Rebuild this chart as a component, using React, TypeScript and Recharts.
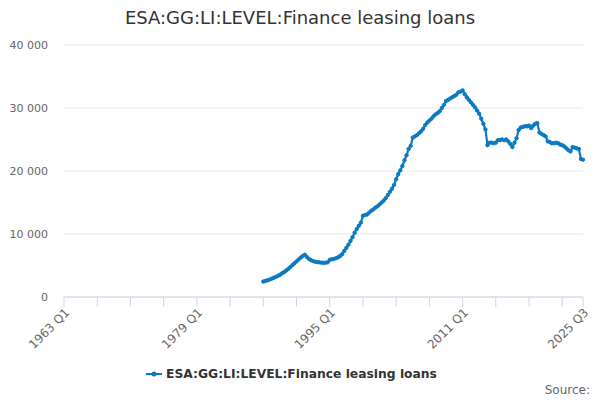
import { LineChart, Line, XAxis, YAxis, CartesianGrid, Legend } from "recharts";

const SERIES_NAME = "ESA:GG:LI:LEVEL:Finance leasing loans";
const SERIES_COLOR = "#0b7bc1";
const FIRST_YEAR = 1963;
const LAST_YEAR = 2025;
const LAST_QUARTER = 3;
const SERIES_START = "1987 Q1";

// every quarter on the axis, 1963 Q1 .. 2025 Q3
const quarters: string[] = [];
for (let y = FIRST_YEAR; y <= LAST_YEAR; y++) {
  for (let q = 1; q <= 4; q++) {
    if (y === LAST_YEAR && q > LAST_QUARTER) break;
    quarters.push(`${y} Q${q}`);
  }
}

const labelTicks = ["1963 Q1", "1979 Q1", "1995 Q1", "2011 Q1", "2025 Q3"];
const yTicks = [0, 10000, 20000, 30000, 40000];

// 1987 Q1 .. 2025 Q3
const leasing = [
  2450, 2550, 2650, 2750, // 1987
  2900, 3050, 3200, 3350, // 1988
  3530, 3750, 3950, 4200, // 1989
  4450, 4750, 5050, 5350, // 1990
  5650, 5950, 6250, 6500, // 1991
  6700, 6350, 6050, 5850, // 1992
  5700, 5600, 5550, 5500, // 1993
  5450, 5400, 5450, 5500, // 1994
  5900, 6000, 6050, 6150, // 1995
  6300, 6500, 6800, 7300, // 1996
  7800, 8300, 8900, 9500, // 1997
  10200, 10800, 11300, 11800, // 1998
  12900, 13000, 13100, 13400, // 1999
  13700, 13900, 14200, 14400, // 2000
  14700, 15000, 15300, 15700, // 2001
  16200, 16700, 17200, 17800, // 2002
  18700, 19500, 20100, 20800, // 2003
  21700, 22500, 23500, 24000, // 2004
  25300, 25500, 25700, 26000, // 2005
  26300, 26700, 27300, 27700, // 2006
  28000, 28300, 28700, 29000, // 2007
  29200, 29500, 30000, 30500, // 2008
  31100, 31300, 31500, 31700, // 2009
  31900, 32100, 32500, 32600, // 2010
  32800, 32200, 31700, 31300, // 2011
  30900, 30500, 30100, 29600, // 2012
  29100, 28300, 27500, 26600, // 2013
  24100, 24500, 24500, 24400, // 2014
  24500, 24900, 24900, 25000, // 2015
  24900, 25000, 24700, 24300, // 2016
  23800, 24500, 25200, 26500, // 2017
  26900, 27000, 27100, 27100, // 2018
  27200, 26800, 27200, 27500, // 2019
  27600, 26100, 25900, 25700, // 2020
  25500, 24700, 24600, 24400, // 2021
  24400, 24500, 24400, 24200, // 2022
  24100, 23900, 23600, 23300, // 2023
  23100, 23800, 23700, 23600, // 2024
  23500, 21900, 21800, // 2025
];

const startIdx = quarters.indexOf(SERIES_START);
const data = quarters.map((q, i) => ({
  i,
  q,
  value: i >= startIdx && i - startIdx < leasing.length ? leasing[i - startIdx] : null,
}));

// tick marks every 4 years, plus the last quarter
const xTickIdx = quarters
  .map((q, i) => ({ q, i }))
  .filter(({ q, i }) => (q.endsWith("Q1") && (parseInt(q) - FIRST_YEAR) % 4 === 0) || i === quarters.length - 1)
  .map(({ i }) => i);

const fmt = (v: number) => String(v).replace(/\B(?=(\d{3})+(?!\d))/g, " ");

const FONT = "'DejaVu Sans', sans-serif";

function QuarterTick({ x, y, payload }: any) {
  const label = quarters[payload.value];
  if (!labelTicks.includes(label)) return null;
  return (
    <g transform={`translate(${x + 2},${y})`}>
      <text x={0} y={0} dy={6} textAnchor="end" transform="rotate(-45)" fill="#666" fontSize={12} fontFamily={FONT}>
        {label}
      </text>
    </g>
  );
}

function LegendContent() {
  return (
    <div style={{ display: "flex", justifyContent: "center", alignItems: "center", height: 26, paddingTop: 4 }}>
      <svg width={16} height={10} style={{ marginRight: 4 }}>
        <line x1={0} y1={5} x2={16} y2={5} stroke={SERIES_COLOR} strokeWidth={2} />
        <circle cx={8} cy={5} r={2.5} fill={SERIES_COLOR} />
      </svg>
      <span style={{ fontSize: 12.3, fontWeight: "bold", color: "#333", fontFamily: FONT }}>{SERIES_NAME}</span>
    </div>
  );
}

export default function App() {
  return (
    <div style={{ position: "absolute", left: 0, top: 0, width: 600, height: 400, background: "#fff", fontFamily: FONT }}>
      <div style={{ position: "absolute", top: 7, width: 600, textAlign: "center", fontSize: 18, color: "#333" }}>
        {SERIES_NAME}
      </div>
      <LineChart width={600} height={400} data={data} margin={{ top: 45, right: 17, left: 0, bottom: 17 }}>
        <CartesianGrid vertical={false} stroke="#e6e6e6" />
        <XAxis
          dataKey="i"
          type="number"
          domain={[0, quarters.length - 1]}
          ticks={xTickIdx}
          interval={0}
          height={60}
          tickSize={10}
          stroke="#ccd6eb"
          tick={<QuarterTick />}
        />
        <YAxis
          width={64}
          domain={[0, 40000]}
          ticks={yTicks}
          axisLine={false}
          tickLine={false}
          tickSize={0}
          tickMargin={16}
          tickFormatter={fmt}
          tick={{ fill: "#666", fontSize: 11, fontFamily: FONT }}
        />
        <Legend verticalAlign="bottom" height={26} content={<LegendContent />} />
        <Line
          dataKey="value"
          name={SERIES_NAME}
          stroke={SERIES_COLOR}
          strokeWidth={2.2}
          dot={{ r: 1.7, fill: SERIES_COLOR, stroke: SERIES_COLOR, strokeWidth: 1 }}
          isAnimationActive={false}
        />
      </LineChart>
      <div style={{ position: "absolute", right: 10, top: 383, fontSize: 12, color: "#666" }}>Source:</div>
    </div>
  );
}
